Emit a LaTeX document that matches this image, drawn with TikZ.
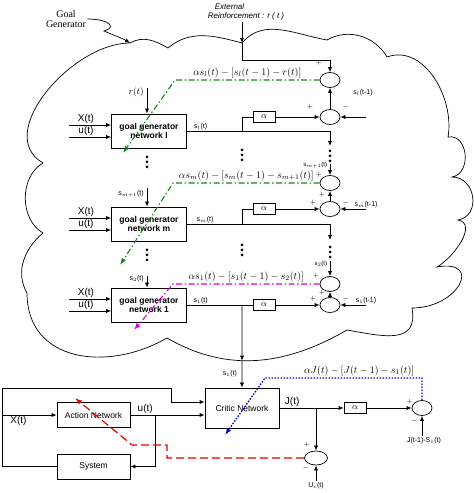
\documentclass[tikz,border=0pt]{standalone}
\usepackage{fontspec}
\setmainfont{Liberation Serif}
\setsansfont{Liberation Sans}
\usetikzlibrary{arrows.meta,positioning,shapes.geometric,intersections}
\definecolor{goalgreen}{RGB}{25,135,25}
\definecolor{goalmagenta}{RGB}{215,0,215}
\definecolor{criticblue}{RGB}{0,0,205}
\definecolor{actionred}{RGB}{230,0,0}

\begin{document}
\begin{tikzpicture}[x=1pt, y=1pt, line width=0.7pt,
    goalnet/.style={draw, minimum width=75pt, minimum height=34pt, align=center, font=\sffamily\bfseries\fontsize{8.5}{9.5}\selectfont},
    netbox/.style={draw, minimum width=73pt, minimum height=25pt, font=\sffamily\fontsize{8.5}{10}\selectfont},
    sumnode/.style={draw, ellipse, minimum width=20pt, minimum height=15pt, inner sep=0pt},
    gainbox/.style={draw, minimum width=22pt, minimum height=11pt, inner sep=0pt, font=\small},
    arrow/.style={-{Latex[length=5pt,width=4pt]}},
    sig/.style={font=\sffamily\fontsize{10}{11}\selectfont, inner sep=1pt},
    sublbl/.style={font=\sffamily\fontsize{7}{8}\selectfont, inner sep=1pt},
    tinylbl/.style={font=\sffamily\fontsize{6}{7}\selectfont, inner sep=0.5pt},
    pm/.style={font=\fontsize{7}{8}\selectfont, inner sep=0pt},
    errlbl/.style={font=\fontsize{10}{12}\selectfont, inner sep=1.5pt},
    goalerr/.style={line width=1.1pt, dash pattern=on 6pt off 2.5pt on 1.5pt off 2.5pt, -{Latex[length=7pt,width=5pt]}},
    criticerr/.style={line width=1.3pt, dash pattern=on 1.5pt off 1.5pt, criticblue, -{Latex[length=7pt,width=5pt]}},
    actionerr/.style={line width=1.2pt, dash pattern=on 8pt off 4pt, actionred, -{Latex[length=7pt,width=5pt]}}
]
    \useasboundingbox (0,0) rectangle (474,493);

    % cloud round the goal generators
    \draw[name path=cloud] (130,450) to[out=30,in=150] (168,445) to[out=40,in=165] (242,450)
        to[out=50,in=170] (327,453) to[out=30,in=120] (387,436) to[out=20,in=80] (448,356)
        to[out=10,in=10,looseness=1.3] (452,316) to[out=0,in=10,looseness=1.4] (458,273)
        to[out=-10,in=30] (437,226) to[out=10,in=0,looseness=2.5] (412,185)
        to[out=-80,in=-10,looseness=1.4] (347,163) to[out=-150,in=-30] (167,155)
        to[out=-150,in=-90,looseness=1.2] (27,200) to[out=120,in=-140] (43,260)
        to[out=150,in=-150] (43,330) to[out=150,in=180] (130,450);

    % titles
    \node[font=\fontsize{10}{10}\selectfont, align=center, inner sep=1pt] (gg) at (66,474) {Goal\\Generator};
    \node[font=\sffamily\itshape\fontsize{8}{9}\selectfont, align=left, inner sep=1pt] (ext) at (246,481) {\hspace{7pt}External\\Reinforcement : r ( t )};
    \coordinate (gin) at (130,450);
    \coordinate (ein) at (242,450);

    % goal generator networks
    \node[goalnet] (g1) at (149,362) {goal generator\\network l};
    \node[goalnet] (gm) at (149,269) {goal generator\\network m};
    \node[goalnet] (gb) at (149,188) {goal generator\\network 1};

    % summing junctions and gains
    \node[sumnode] (c1) at (330,413) {};
    \node[sumnode] (c2) at (330,376) {};
    \node[sumnode] (c3) at (330,310) {};
    \node[sumnode] (c4) at (330,284) {};
    \node[sumnode] (c5) at (330,209) {};
    \node[sumnode] (c6) at (330,188) {};
    \node[gainbox] (a1) at (264,376) {$\alpha$};
    \node[gainbox] (am) at (264,284) {$\alpha$};
    \node[gainbox] (ab) at (264,188) {$\alpha$};

    % critic / action part
    \node[netbox] (action) at (93.5,78) {Action Network};
    \node[netbox] (system) at (93.5,26.5) {System};
    \node[netbox, minimum width=74pt, minimum height=40pt] (critic) at (242,85) {Critic Network};
    \node[gainbox] (aJ) at (355,85) {$\alpha$};
    \node[sumnode] (c7) at (422,85) {};
    \node[sumnode, minimum width=23pt, minimum height=14pt] (c8) at (316,35) {};

    \draw[arrow] (gg.east) .. controls (108,474) and (118,466) .. (104,462) .. controls (113,458) and (122,455) .. (gin);
    \draw[arrow] (ext.south -| ein) -- (ein);
    \draw[arrow] (ein) -- ++(0,-17) -| (c1);

    % inputs of the networks
    \foreach \b in {g1,gm,gb} {
        \coordinate (\b x) at ([xshift=-42pt,yshift=6pt]\b.west);
        \coordinate (\b u) at ([xshift=-42pt,yshift=-6pt]\b.west);
        \draw[arrow] (\b x) -- (\b x -| \b.west) node[pos=0.4, above, sig] {X(t)};
        \draw[arrow] (\b u) -- (\b u -| \b.west) node[pos=0.4, above, sig] {u(t)};
    }
    \coordinate (rin) at (147,405);
    \coordinate (smin) at (147,305);
    \coordinate (s2in) at (147,217);
    \draw[arrow] (rin) -- (rin |- g1.north);
    \draw[arrow] (smin) -- (smin |- gm.north);
    \draw[arrow] (s2in) -- (s2in |- gb.north);
    \node[anchor=east, inner sep=1pt, font=\fontsize{9}{10}\selectfont] (rlbl) at (145,401) {$r(t)$};
    \node[sublbl, anchor=east] (smlbl) at (145,299) {s$_{m+1}$(t)};
    \node[sublbl, anchor=east] (s2lbl) at (145,214) {s$_2$(t)};

    % outputs
    \coordinate (b1) at (242,362);
    \coordinate (bm) at (242,269);
    \coordinate (bb) at (242,188);
    \coordinate (d1) at (330,347);
    \coordinate (e1) at (330,329);
    \coordinate (dm) at (330,253);
    \coordinate (em) at (330,232);
    \coordinate (r1) at (366,376);
    \coordinate (rm) at (366,284);
    \coordinate (rb) at (366,188);

    \draw (g1) -- node[pos=0.25, above, sublbl] {s$_l$(t)} (b1);
    \draw[arrow] (b1) -| (d1);
    \draw (b1) |- (a1);
    \draw[arrow] (a1) -- (c2);
    \draw[arrow] (c2) -- (c1);
    \draw[arrow] (r1) -- (c2);
    \node[sublbl] (r1lbl) at (363,400) {s$_l$(t-1)};
    \draw[arrow] (e1) -- (c3);
    \node[tinylbl, anchor=east] (e1lbl) at (328,328) {s$_{m+1}$(t)};

    \draw (gm) -- node[pos=0.33, above, sublbl] {s$_m$(t)} (bm);
    \draw[arrow] (bm) -| (dm);
    \draw (bm) |- (am);
    \draw[arrow] (am) -- (c4);
    \draw[arrow] (c4) -- (c3);
    \draw[arrow] (rm) -- (c4);
    \node[sublbl, above] (rmlbl) at (rm) {s$_m$(t-1)};
    \draw[arrow] (em) -- (c5);
    \node[tinylbl, anchor=east] (emlbl) at (328,229) {s$_2$(t)};

    \draw (gb) -- node[pos=0.25, above, sublbl] {s$_1$(t)} (bb);
    \draw (bb) -- (ab);
    \draw[arrow] (ab) -- (c6);
    \draw[arrow] (c6) -- (c5);
    \draw[arrow] (rb) -- (c6);
    \node[sublbl, above] (rblbl) at (rb) {s$_1$(t-1)};

    % dots
    \foreach \x/\y in {147/336, 242/343, 330/342, 147/243, 242/248, 330/246}
        \foreach \d in {0,5,10}
            \fill (\x,\y-\d) circle (1.5pt);

    % signs
    \foreach \n/\x/\y/\s in {1/319/430/+, 2/310/386/+, 3/346/386/-, 4/319/318/+, 5/322/298/+,
        6/313/290/+, 7/346/290/-, 8/316/217/+, 9/322/200/+, 10/313/194/+, 11/346/194/-,
        12/410/91/+, 13/414/72/-, 14/307/48/+, 15/306/25/-}
        \node[pm] (sgn\n) at (\x,\y) {$\s$};

    % error signals
    \coordinate (k1) at (175,413);
    \coordinate (t1) at (123,340);
    \coordinate (k2) at (173,310);
    \coordinate (t2) at (120,228);
    \coordinate (k3) at (173,209);
    \coordinate (t3) at (134,163);
    \draw[goalerr, goalgreen] (c1) -- node[above, errlbl, text=black] {$\alpha s_l(t)-[s_l(t-1)-r(t)]$} (k1) -- (t1);
    \draw[goalerr, goalgreen] (c3) -- node[above, errlbl, text=black] {$\alpha s_m(t)-[s_m(t-1)-s_{m+1}(t)]$} (k2) -- (t2);
    \draw[goalerr, goalmagenta] (c5) -- node[above, errlbl, text=black] {$\alpha s_1(t)-[s_1(t-1)-s_2(t)]$} (k3) -- (t3);

    % critic input
    \path[name path=sline] (242,100) -- (242,180);
    \path[name intersections={of=cloud and sline, by=cbot}];
    \draw[arrow] (bb) -- (cbot);
    \draw[arrow] (cbot) -- (critic);
    \node[sublbl] (s1lbl) at (230,119) {s$_1$(t)};

    % plant loop
    \coordinate (f1) at (2,26.5);
    \coordinate (f2) at (2,105);
    \coordinate (f3) at (171,105);
    \coordinate (ci) at ([yshift=6pt]critic.west);
    \coordinate (ub) at (155,78);
    \draw[arrow] (system) -- (f1) -- (f2) -- (f3) |- (ci);
    \draw[arrow] (f2 |- action) -- (action) node[pos=0.3, below, sig] {X(t)};
    \draw[arrow] (action) -- (action -| critic.west) node[pos=0.2, above, sig] {u(t)};
    \draw[arrow] (ub) |- (system);

    % critic output
    \coordinate (jb) at (316,85);
    \draw[arrow] (critic) -- (aJ) node[pos=0.2, above, sig] {J(t)};
    \draw[arrow] (aJ) -- (c7);
    \draw[arrow] (jb) -- (c8);
    \node[sublbl] (jl) at (424,52) {J(t-1)-S$_1$(t)};
    \draw[arrow] (c7 |- jl.north) -- (c7);
    \node[sublbl] (ucl) at (316,7) {U$_c$(t)};
    \draw[arrow] (ucl) -- (c8);

    \coordinate (k4) at (422,115);
    \coordinate (k5) at (265,115);
    \coordinate (t4) at (225,58);
    \draw[criticerr] (c7) -- (k4) -- node[pos=0.4, above, errlbl, text=black] {$\alpha J(t)-[J(t-1)-s_1(t)]$} (k5) -- (t4);

    \coordinate (k6) at (167,35);
    \coordinate (k7) at (167,48);
    \coordinate (k8) at (132,48);
    \coordinate (t5) at (75,95);
    \draw[actionerr] (c8) -- (k6) -- (k7) -- (k8) -- (t5);
\end{tikzpicture}
\end{document}
